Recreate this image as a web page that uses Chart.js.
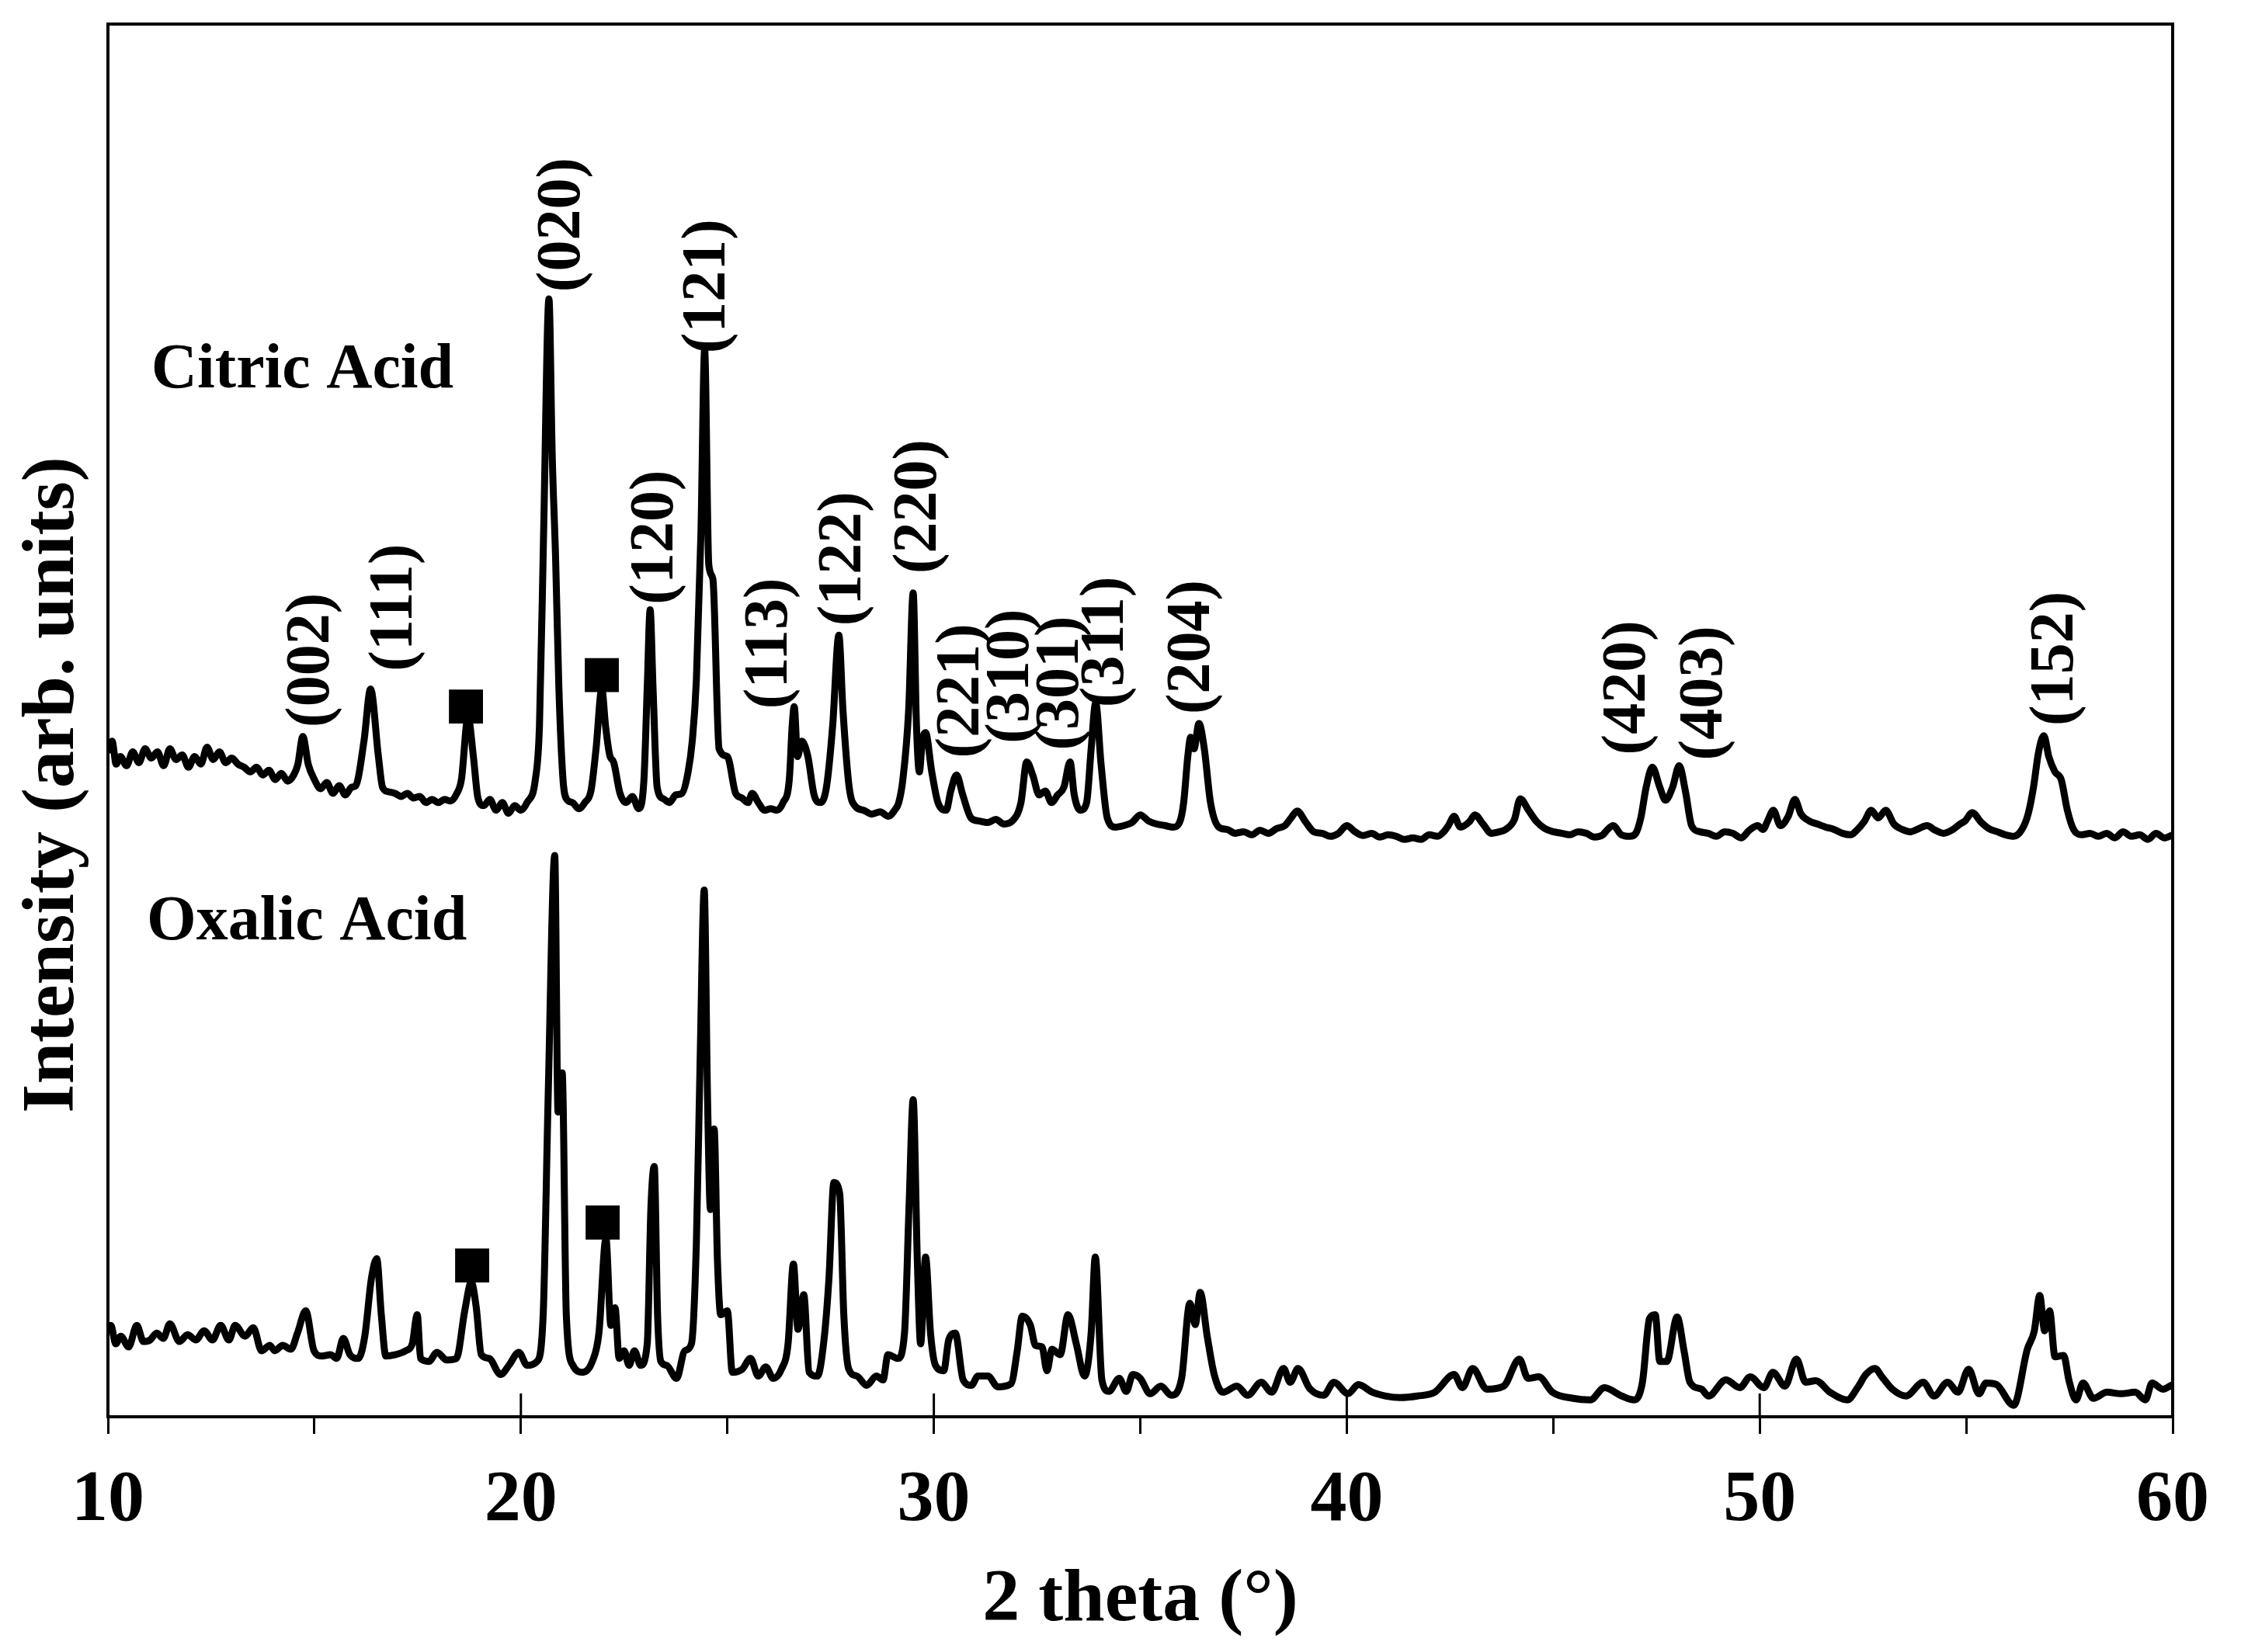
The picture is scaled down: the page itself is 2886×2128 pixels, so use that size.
<!DOCTYPE html>
<html><head><meta charset="utf-8">
<script src="https://cdn.jsdelivr.net/npm/chart.js@4.4.1/dist/chart.umd.min.js"></script>
<style>html,body{margin:0;padding:0;background:#fff}canvas{display:block}</style>
</head><body>
<canvas id="c" width="2886" height="2128"></canvas>
<script>
// ---------- DATA ----------
const xTickValues = [10, 20, 30, 40, 50, 60];

const citricX = [10.0,10.1,10.2,10.3,10.45,10.6,10.75,10.9,11.05,11.2,11.35,11.5,11.65,11.8,11.95,12.1,12.25,12.4,12.55,12.7,12.85,13.0,13.15,13.3,13.45,13.6,13.75,13.9,14.05,14.2,14.35,14.5,14.6,14.72,14.85,15.0,15.15,15.3,15.45,15.6,15.75,15.9,16.0,16.2,16.36,16.55,16.65,16.8,16.95,17.1,17.25,17.4,17.55,17.7,17.85,18.0,18.15,18.3,18.45,18.56,18.72,18.85,18.96,19.1,19.25,19.4,19.55,19.7,19.85,20.0,20.15,20.35,20.45,20.55,20.68,20.76,20.84,20.92,21.02,21.1,21.25,21.4,21.55,21.7,21.82,21.96,22.05,22.15,22.25,22.4,22.55,22.7,22.85,22.98,23.06,23.13,23.2,23.3,23.45,23.6,23.75,23.9,24.05,24.15,24.25,24.36,24.45,24.55,24.65,24.8,25.0,25.2,25.35,25.5,25.6,25.75,25.9,26.05,26.2,26.35,26.5,26.57,26.62,26.7,26.8,26.95,27.1,27.25,27.4,27.55,27.7,27.8,27.95,28.1,28.3,28.5,28.7,28.9,29.05,29.15,29.25,29.39,29.5,29.58,29.65,29.72,29.8,29.95,30.1,30.3,30.41,30.55,30.7,30.9,31.1,31.3,31.5,31.7,31.9,32.11,32.25,32.4,32.55,32.7,32.85,33.0,33.15,33.3,33.4,33.55,33.7,33.81,33.92,34.05,34.2,34.4,34.6,34.8,35.0,35.2,35.4,35.6,35.8,35.95,36.05,36.15,36.22,36.3,36.42,36.55,36.7,36.9,37.1,37.3,37.5,37.7,37.9,38.1,38.3,38.5,38.65,38.8,39.0,39.2,39.4,39.6,39.8,40.0,40.2,40.4,40.6,40.8,41.0,41.2,41.4,41.6,41.8,42.0,42.2,42.35,42.46,42.6,42.75,42.97,43.1,43.3,43.5,43.7,43.85,44.06,44.2,44.4,44.6,44.8,45.0,45.2,45.4,45.6,45.8,46.0,46.2,46.3,46.45,46.65,46.85,47.0,47.12,47.25,47.4,47.58,47.72,47.89,48.05,48.2,48.35,48.55,48.75,48.95,49.15,49.35,49.55,49.75,49.95,50.08,50.19,50.33,50.5,50.69,50.85,51.0,51.2,51.4,51.6,51.8,52.0,52.2,52.35,52.54,52.7,52.87,53.05,53.25,53.45,53.65,53.85,54.05,54.25,54.45,54.65,54.85,54.97,55.15,55.35,55.55,55.75,55.95,56.15,56.35,56.5,56.63,56.75,56.88,57.0,57.15,57.3,57.45,57.6,57.8,58.0,58.2,58.4,58.6,58.8,59.0,59.2,59.4,59.6,59.8,60.0];
const citricY = [865,880,850,860,848,866,852,870,858,866,848,870,856,862,846,860,850,872,856,866,852,858,850,846,840,846,836,842,830,838,828,836,850,886,850,830,818,826,812,822,810,820,822,880,948,860,820,814,812,808,812,806,808,800,804,800,804,802,812,830,912,860,806,796,804,790,800,786,796,790,800,830,900,1150,1456,1250,1120,950,830,805,800,792,800,816,870,948,900,862,852,812,800,808,792,830,950,1051,950,820,805,800,810,812,840,880,960,1150,1390,1110,1091,870,860,812,806,800,812,800,790,792,790,800,830,900,925,860,880,860,810,800,820,900,1018,920,820,795,790,785,788,782,790,800,830,920,1073,900,840,880,891,840,800,790,815,836,810,780,776,774,778,772,776,800,853,835,810,815,800,810,820,853,810,790,800,870,930,850,780,768,770,774,784,776,772,770,768,774,800,860,885,870,903,870,800,768,765,760,762,758,764,760,766,770,780,789,775,762,760,756,760,770,762,757,760,755,758,756,752,754,752,758,756,762,770,782,768,775,784,772,760,762,765,778,805,790,775,766,762,760,758,762,760,755,758,764,770,758,756,760,780,820,846,820,803,820,848,815,770,762,760,756,762,760,754,764,770,765,776,790,770,782,804,785,776,772,768,765,760,758,764,776,790,780,790,772,765,762,766,770,764,760,764,772,776,787,775,766,762,758,756,765,785,820,865,887,860,840,830,790,765,758,760,756,760,754,762,756,758,752,760,754,758,758];

const oxalicX = [10.0,10.07,10.19,10.31,10.5,10.7,10.86,11.02,11.18,11.34,11.5,11.73,11.93,12.13,12.33,12.53,12.73,12.93,13.08,13.32,13.52,13.72,13.92,14.04,14.23,14.43,14.59,14.79,14.99,15.19,15.39,15.54,15.7,15.86,16.06,16.22,16.38,16.51,16.62,16.73,16.97,17.21,17.37,17.49,17.57,17.77,17.97,18.2,18.44,18.64,18.8,18.92,19.04,19.23,19.51,19.71,19.95,20.15,20.39,20.54,20.66,20.82,20.9,21.0,21.1,21.26,21.5,21.73,21.89,22.06,22.18,22.28,22.38,22.5,22.62,22.75,22.9,23.06,23.15,23.23,23.31,23.39,23.53,23.77,23.97,24.13,24.25,24.34,24.44,24.52,24.59,24.68,24.76,24.84,25.0,25.12,25.36,25.56,25.75,25.93,26.11,26.31,26.47,26.6,26.71,26.85,26.98,27.18,27.34,27.46,27.58,27.72,27.82,27.94,28.14,28.37,28.61,28.77,28.89,29.13,29.29,29.4,29.5,29.6,29.68,29.8,29.92,30.04,30.24,30.36,30.52,30.71,30.91,31.07,31.31,31.55,31.87,32.02,32.14,32.34,32.46,32.62,32.74,32.86,33.06,33.25,33.45,33.65,33.81,33.91,34.07,34.24,34.49,34.66,34.82,35.0,35.24,35.5,35.75,36.0,36.2,36.33,36.45,36.62,36.79,37.0,37.34,37.6,37.93,38.18,38.47,38.63,38.82,39.1,39.44,39.69,40.03,40.28,40.62,40.95,41.29,41.71,42.13,42.6,42.8,43.05,43.39,43.8,44.18,44.39,44.65,44.98,45.48,45.9,46.24,46.66,46.96,47.16,47.33,47.47,47.58,47.75,48.0,48.17,48.31,48.59,48.76,49.18,49.52,49.77,50.1,50.32,50.61,50.89,51.11,51.36,51.7,52.12,52.37,52.57,52.79,52.96,53.21,53.54,53.96,54.22,54.55,54.8,55.06,55.31,55.48,55.73,56.15,56.48,56.65,56.78,56.9,57.02,57.15,57.36,57.49,57.66,57.83,58.08,58.41,58.75,59.09,59.34,59.5,59.76,60.0];
const oxalicY = [110,119,95,105,91,119,98,100,109,102,121,98,107,100,112,100,119,100,119,105,116,86,93,86,93,88,109,138,86,79,81,76,102,81,76,105,180,206,133,79,81,86,95,133,76,72,84,74,76,138,175,142,81,76,55,67,84,67,72,133,415,731,397,448,133,67,58,72,109,232,119,142,76,86,67,86,67,95,274,326,133,72,67,50,86,95,227,463,686,415,270,375,204,133,138,58,62,76,53,65,50,62,95,199,114,159,58,53,100,180,305,291,133,62,53,41,53,48,81,76,109,274,413,204,95,208,109,67,60,100,109,48,41,53,53,39,43,86,131,119,93,91,60,88,81,133,95,53,109,208,48,33,50,33,55,50,30,40,28,50,148,120,162,105,55,32,40,28,45,32,63,45,63,37,28,45,30,42,32,27,25,27,32,55,38,63,36,40,75,50,52,32,24,22,38,27,22,45,128,133,72,72,130,85,45,36,27,48,38,52,38,58,40,75,45,47,32,22,38,55,63,52,36,27,45,27,45,32,62,30,44,42,15,88,112,158,112,138,78,80,47,22,44,24,32,30,32,22,44,36,42];

// square markers (impurity phase)
const markerX = [18.67, 21.96, 18.82, 21.98];
const markerY = [925, 966, 197, 253];

// sample names
const sampleNames = ['Citric Acid', 'Oxalic Acid'];
const sampleX = [11.05, 10.94];
const sampleY = [1341, 622];

// Miller index labels (citric acid trace)
const peakLabels = ['(002)','(111)','(020)','(120)','(121)','(113)','(122)','(220)','(221)','(310)','(301)','(311)','(204)','(420)','(403)','(152)'];
const peakLabelX = [14.95,16.97,21.02,23.28,24.55,26.05,27.83,29.66,30.69,31.9,33.1,34.19,36.28,46.83,48.68,57.19];
const peakLabelY = [898,971,1465,1058,1385,922,1030,1098,858,877,868,924,915,862,855,900];

// ---------- CHART ----------
const FONT = '"Liberation Serif", "Times New Roman", serif';
const toPts = (xs, ys) => xs.map((x, i) => ({x: x, y: ys[i]}));

const decorPlugin = {
  id: 'decor',
  afterDraw(chart) {
    const {ctx, chartArea: a, scales: {x, y}} = chart;
    ctx.save();
    ctx.strokeStyle = '#000';
    ctx.lineWidth = 4;
    ctx.strokeRect(a.left, a.top, a.right - a.left, a.bottom - a.top);
    ctx.lineWidth = 3;
    xTickValues.forEach(v => {
      const px = x.getPixelForValue(v);
      ctx.beginPath(); ctx.moveTo(px, a.bottom); ctx.lineTo(px, a.bottom - 30); ctx.stroke();
    });
    ctx.fillStyle = '#000';
    ctx.font = 'bold 82px ' + FONT;
    ctx.textAlign = 'left'; ctx.textBaseline = 'alphabetic';
    sampleNames.forEach((t, i) => ctx.fillText(t, x.getPixelForValue(sampleX[i]), y.getPixelForValue(sampleY[i])));
    ctx.font = 'bold 80px ' + FONT;
    ctx.textBaseline = 'middle';
    peakLabels.forEach((t, i) => {
      ctx.save();
      ctx.translate(x.getPixelForValue(peakLabelX[i]), y.getPixelForValue(peakLabelY[i]));
      ctx.rotate(-Math.PI / 2);
      ctx.fillText(t, 0, 0);
      ctx.restore();
    });
    ctx.font = 'bold 96px ' + FONT;
    ctx.save();
    ctx.translate(69, 1011);
    ctx.rotate(-Math.PI / 2);
    ctx.textAlign = 'center';
    ctx.fillText('Intensity (arb. units)', 0, 0);
    ctx.restore();
    ctx.restore();
  }
};

new Chart(document.getElementById('c'), {
  data: {
    datasets: [
      {type: 'line', label: 'Citric Acid', data: toPts(citricX, citricY), borderColor: '#000', borderWidth: 9,
       borderJoinStyle: 'round', pointRadius: 0, cubicInterpolationMode: 'monotone', fill: false},
      {type: 'line', label: 'Oxalic Acid', data: toPts(oxalicX, oxalicY), borderColor: '#000', borderWidth: 9,
       borderJoinStyle: 'round', pointRadius: 0, cubicInterpolationMode: 'monotone', fill: false},
      {type: 'scatter', label: 'markers', data: toPts(markerX, markerY), pointStyle: 'rect', pointRadius: 31,
       backgroundColor: '#000', borderWidth: 0, clip: false}
    ]
  },
  options: {
    responsive: false,
    devicePixelRatio: 1,
    animation: false,
    layout: {padding: {left: 0, right: 88, top: 11, bottom: 0}},
    plugins: {legend: {display: false}, tooltip: {enabled: false}},
    scales: {
      x: {
        type: 'linear', min: 10, max: 60,
        afterFit(s) { s.height = 303; },
        ticks: {stepSize: 5, autoSkip: false, maxRotation: 0, padding: 30, color: '#000',
                font: {family: FONT, size: 94, weight: 'bold'},
                callback: v => (v % 10 === 0 ? String(v) : '')},
        grid: {display: true, drawOnChartArea: false, drawTicks: true, tickLength: 22, lineWidth: 3, color: '#000'},
        border: {display: true, width: 4, color: '#000'},
        title: {display: true, text: '2 theta (°)', color: '#000', padding: {top: 0, bottom: 8},
                font: {family: FONT, size: 96, weight: 'bold'}}
      },
      y: {
        type: 'linear', min: 0, max: 1814,
        afterFit(s) { s.width = 139; },
        ticks: {display: false},
        grid: {display: false},
        border: {display: true, width: 4, color: '#000'}
      }
    }
  },
  plugins: [decorPlugin]
});
</script>
</body></html>
